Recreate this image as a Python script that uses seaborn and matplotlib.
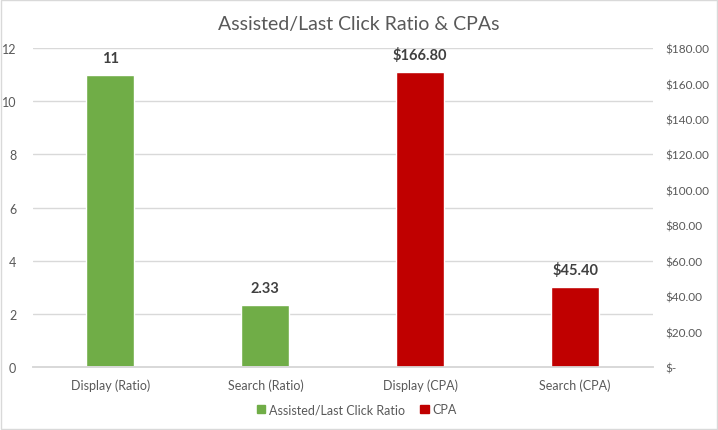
import matplotlib
matplotlib.use("Agg")
import matplotlib.pyplot as plt
import seaborn as sns
import pandas as pd
from matplotlib.patches import Rectangle, Patch
from matplotlib.ticker import FuncFormatter, MultipleLocator

categories = ["Display (Ratio)", "Search (Ratio)", "Display (CPA)", "Search (CPA)"]
ratio_categories = ["Display (Ratio)", "Search (Ratio)"]
ratio_values = [11, 2.33]
ratio_labels = ["11", "2.33"]
cpa_categories = ["Display (CPA)", "Search (CPA)"]
cpa_values = [166.80, 45.40]
cpa_labels = ["$166.80", "$45.40"]
series_names = ["Assisted/Last Click Ratio", "CPA"]

GREEN = "#70ad47"
RED = "#c00000"
TXT = "#595959"
GRID = "#d9d9d9"

sns.set_theme(style="white")
plt.rcParams["font.family"] = ["Lato", "DejaVu Sans"]

fig = plt.figure(figsize=(7.18, 4.31), dpi=100)
ax = fig.add_axes([0.046, 0.146, 0.863, 0.740])
ax2 = ax.twinx()

df_r = pd.DataFrame({"cat": ratio_categories, "val": ratio_values})
df_c = pd.DataFrame({"cat": cpa_categories, "val": cpa_values})

sns.barplot(data=df_r, x="cat", y="val", order=categories, color=GREEN,
            saturation=1, width=0.31, ax=ax)
sns.barplot(data=df_c, x="cat", y="val", order=categories, color=RED,
            saturation=1, width=0.31, ax=ax2)

ax.set_ylim(0, 12)
ax2.set_ylim(0, 180)
ax.set_xlim(-0.5, 3.5)
ax.yaxis.set_major_locator(MultipleLocator(2))
ax2.yaxis.set_major_locator(MultipleLocator(20))
ax2.yaxis.set_major_formatter(FuncFormatter(lambda v, p: "$-" if v == 0 else f"${v:,.2f}"))

ax.set_xlabel("")
ax.set_ylabel("")
ax2.set_ylabel("")
ax.grid(axis="y", color=GRID, linewidth=1)
ax.set_axisbelow(True)
for a in (ax, ax2):
    for s in ("left", "right", "top"):
        a.spines[s].set_visible(False)
    a.spines["bottom"].set_color(GRID)
    a.tick_params(length=0, labelsize=9, labelcolor=TXT)
ax.tick_params(axis="y", pad=12)
ax.tick_params(axis="x", pad=8)
ax2.tick_params(axis="y", pad=9, labelsize=8.5)
for lbl in ax.get_yticklabels():
    lbl.set_horizontalalignment("right")

for i, (v, t) in enumerate(zip(ratio_values, ratio_labels)):
    ax.annotate(t, (categories.index(ratio_categories[i]), v), xytext=(0, 7),
                textcoords="offset points", ha="center", va="bottom",
                fontsize=10.5, fontweight="bold", color="#404040")
for i, (v, t) in enumerate(zip(cpa_values, cpa_labels)):
    ax2.annotate(t, (categories.index(cpa_categories[i]), v), xytext=(0, 7),
                 textcoords="offset points", ha="center", va="bottom",
                 fontsize=10.5, fontweight="bold", color="#404040")

fig.text(0.5, 0.944, "Assisted/Last Click Ratio & CPAs", ha="center", va="center",
         fontsize=14, color=TXT)

handles = [Patch(color=GREEN, label=series_names[0]), Patch(color=RED, label=series_names[1])]
fig.legend(handles=handles, loc="center", bbox_to_anchor=(0.497, 0.048), ncol=2,
           frameon=False, fontsize=9, labelcolor=TXT, handlelength=0.7,
           handleheight=0.7, handletextpad=0.3, columnspacing=1.2)

fig.patches.append(Rectangle((0.001, 0.002), 0.997, 0.996, transform=fig.transFigure,
                             fill=False, edgecolor=GRID, linewidth=1))

fig.savefig("out.png", dpi=100)
